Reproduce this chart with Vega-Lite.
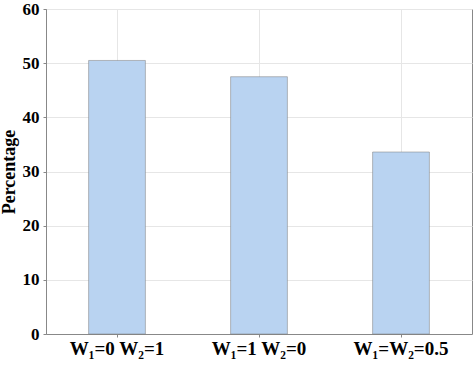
{
  "$schema": "https://vega.github.io/schema/vega-lite/v6.json",
  "width": 426,
  "height": 325,
  "autosize": {"type": "none"},
  "padding": {"left": 46, "top": 9, "right": 2, "bottom": 31},
  "config": {
    "view": {"stroke": "#888888", "strokeWidth": 1},
    "font": "Liberation Serif"
  },
  "data": {
    "values": [
      {"case": "W₁=0 W₂=1", "pct": 50.5},
      {"case": "W₁=1 W₂=0", "pct": 47.5},
      {"case": "W₁=W₂=0.5", "pct": 33.6}
    ]
  },
  "mark": {"type": "bar", "color": "#b9d3f1", "stroke": "#7a7a7a", "strokeWidth": 0.5},
  "encoding": {
    "x": {
      "field": "case", "type": "nominal", "sort": null,
      "scale": {"paddingInner": 0.6, "paddingOuter": 0.3},
      "axis": {
        "title": null, "labelAngle": 0, "labelFont": "Liberation Serif", "labelFontSize": 19,
        "labelFontWeight": "bold", "labelColor": "#000000", "grid": true, "gridColor": "#e6e6e6",
        "domainColor": "#888888", "tickColor": "#888888", "tickSize": 3, "labelPadding": 2
      }
    },
    "y": {
      "field": "pct", "type": "quantitative",
      "scale": {"domain": [0, 60]},
      "axis": {
        "title": "Percentage", "titleFont": "Liberation Serif", "titleFontSize": 18, "titleFontWeight": "bold",
        "titleColor": "#000000", "titlePadding": 4,
        "values": [0, 10, 20, 30, 40, 50, 60],
        "labelFont": "Liberation Serif", "labelFontSize": 17, "labelFontWeight": "bold", "labelColor": "#000000",
        "grid": true, "gridColor": "#e6e6e6", "domainColor": "#888888", "tickColor": "#888888",
        "tickSize": 3, "labelPadding": 4
      }
    }
  }
}
